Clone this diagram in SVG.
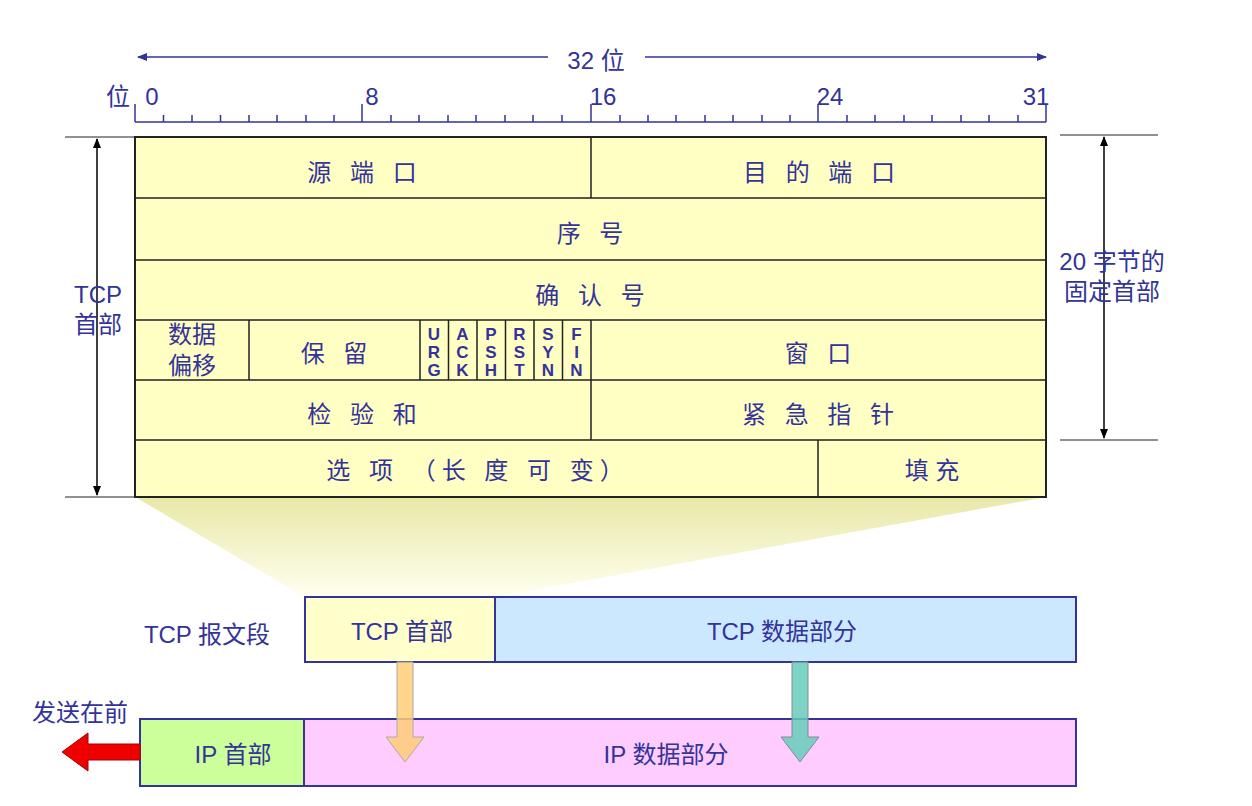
<svg xmlns="http://www.w3.org/2000/svg" width="1252" height="806" viewBox="0 0 1252 806">
<style>
text{font-family:"Liberation Sans","Noto Sans CJK SC",sans-serif;fill:#33339a;font-size:24px;text-anchor:middle}
.c{fill:#ffffc4;stroke:#222;stroke-width:2}
.l{stroke:#222;stroke-width:1.5}
.b{stroke:#33339a;stroke-width:1.5;fill:none}
text.f{font-size:17px;font-weight:bold}
.bx{stroke:#333399;stroke-width:2}
.w{letter-spacing:6px}
</style>
<defs>
<marker id="a" viewBox="0 0 10 10" refX="9" refY="5" markerWidth="12" markerHeight="10" orient="auto-start-reverse" markerUnits="userSpaceOnUse"><path d="M0,1 L10,5 L0,9 z" fill="#33339a"/></marker>
<marker id="k" viewBox="0 0 10 10" refX="9" refY="5" markerWidth="10" markerHeight="12" orient="auto-start-reverse" markerUnits="userSpaceOnUse"><path d="M0,1 L10,5 L0,9 z" fill="#000"/></marker>
<linearGradient id="g" x1="0" y1="0" x2="0" y2="1"><stop offset="0" stop-color="#e8e8a8"/><stop offset="1" stop-color="#fffff0"/></linearGradient>
</defs>
<g id="funnel"><polygon points="135,497 1046,497 495,597 305,597" fill="url(#g)"/></g>
<g id="ruler">
<line class="b" x1="138" y1="57" x2="548" y2="57" marker-start="url(#a)"/>
<line class="b" x1="645" y1="57" x2="1046" y2="57" marker-end="url(#a)"/>
<text x="596" y="69" font-size="26">32 位</text>
<text x="118" y="105">位</text>
<text x="152" y="105">0</text><text x="372" y="105">8</text><text x="603" y="105">16</text><text x="830" y="105">24</text><text x="1036" y="105">31</text>
<path class="b" d="M135,122H1046M135,104V122M362,104V122M591,104V122M818,104V122M1046,104V122M163.5,115V122M192,115V122M220.5,115V122M249,115V122M277,115V122M306,115V122M334,115V122M391,115V122M419,115V122M448,115V122M476,115V122M505,115V122M533,115V122M562,115V122M620,115V122M648,115V122M676,115V122M705,115V122M733,115V122M762,115V122M790,115V122M847,115V122M875,115V122M904,115V122M932,115V122M961,115V122M989,115V122M1018,115V122"/>
</g>
<g id="header">
<rect class="c" x="135" y="137" width="911" height="360"/>
<path class="l" d="M135,198H1046M135,260H1046M135,320H1046M135,380H1046M135,440H1046M591,137V198M249,320V380M420,320V380M448.5,320V380M477,320V380M505.5,320V380M534,320V380M562.5,320V380M591,320V440M818,440V497"/>
<text class="w" x="365" y="181">源 端 口</text><text class="w" x="822" y="181">目 的 端 口</text>
<text class="w" x="593" y="242">序 号</text><text class="w" x="593" y="304">确 认 号</text>
<text x="192" y="343">数据</text><text x="192" y="374">偏移</text>
<text class="w" x="337" y="362">保 留</text><text class="w" x="821" y="362">窗 口</text>
<text class="w" x="365" y="423">检 验 和</text><text class="w" x="821" y="423">紧 急 指 针</text>
<text class="w" x="478" y="479">选  项 （长 度 可 变）</text><text x="932" y="479">填    充</text>
<text class="f" x="434" y="340">U</text><text class="f" x="434" y="358">R</text><text class="f" x="434" y="376">G</text>
<text class="f" x="462.5" y="340">A</text><text class="f" x="462.5" y="358">C</text><text class="f" x="462.5" y="376">K</text>
<text class="f" x="491" y="340">P</text><text class="f" x="491" y="358">S</text><text class="f" x="491" y="376">H</text>
<text class="f" x="519.5" y="340">R</text><text class="f" x="519.5" y="358">S</text><text class="f" x="519.5" y="376">T</text>
<text class="f" x="548" y="340">S</text><text class="f" x="548" y="358">Y</text><text class="f" x="548" y="376">N</text>
<text class="f" x="576.5" y="340">F</text><text class="f" x="576.5" y="358">I</text><text class="f" x="576.5" y="376">N</text>
</g>
<g id="braces">
<path d="M65,137H135M65,497H135M1060,135H1158M1060,440H1158" stroke="#222" stroke-width="1"/>
<line x1="97" y1="139" x2="97" y2="495" stroke="#000" stroke-width="1.5" marker-start="url(#k)" marker-end="url(#k)"/>
<line x1="1104" y1="137" x2="1104" y2="438" stroke="#000" stroke-width="1.5" marker-start="url(#k)" marker-end="url(#k)"/>
<text x="98" y="303">TCP</text><text x="98" y="333">首部</text>
<text x="1112" y="270">20 字节的</text><text x="1112" y="300">固定首部</text>
</g>
<g id="tcpseg">
<text x="207" y="643" font-size="26">TCP 报文段</text>
<rect class="bx" x="305" y="597" width="190" height="65" fill="#ffffcc"/>
<rect class="bx" x="495" y="597" width="581" height="65" fill="#cce8ff"/>
<text x="402" y="640" font-size="25">TCP 首部</text><text x="782" y="640" font-size="25">TCP 数据部分</text>
</g>
<g id="ipdg">
<rect class="bx" x="140" y="719" width="164" height="67" fill="#ccff99"/>
<rect class="bx" x="304" y="719" width="772" height="67" fill="#ffccff"/>
<text x="233" y="763" font-size="26">IP 首部</text><text x="666" y="763" font-size="26">IP 数据部分</text>
<text x="80" y="721" font-size="25">发送在前</text>
</g>
<g id="connectors">
<polygon points="397,662 413,662 413,737 424,737 405,762 386,737 397,737" fill="#ffcc77" fill-opacity="0.85" stroke="#aaa" stroke-width="1"/>
<polygon points="792,662 808,662 808,737 819,737 800,762 781,737 792,737" fill="#66ccbb" fill-opacity="0.85" stroke="#889" stroke-width="1"/>
<polygon points="140,744 88,744 88,733 62,752 88,771 88,760 140,760" fill="#ee0000" stroke="#aa0000" stroke-width="1"/>
</g>
</svg>
